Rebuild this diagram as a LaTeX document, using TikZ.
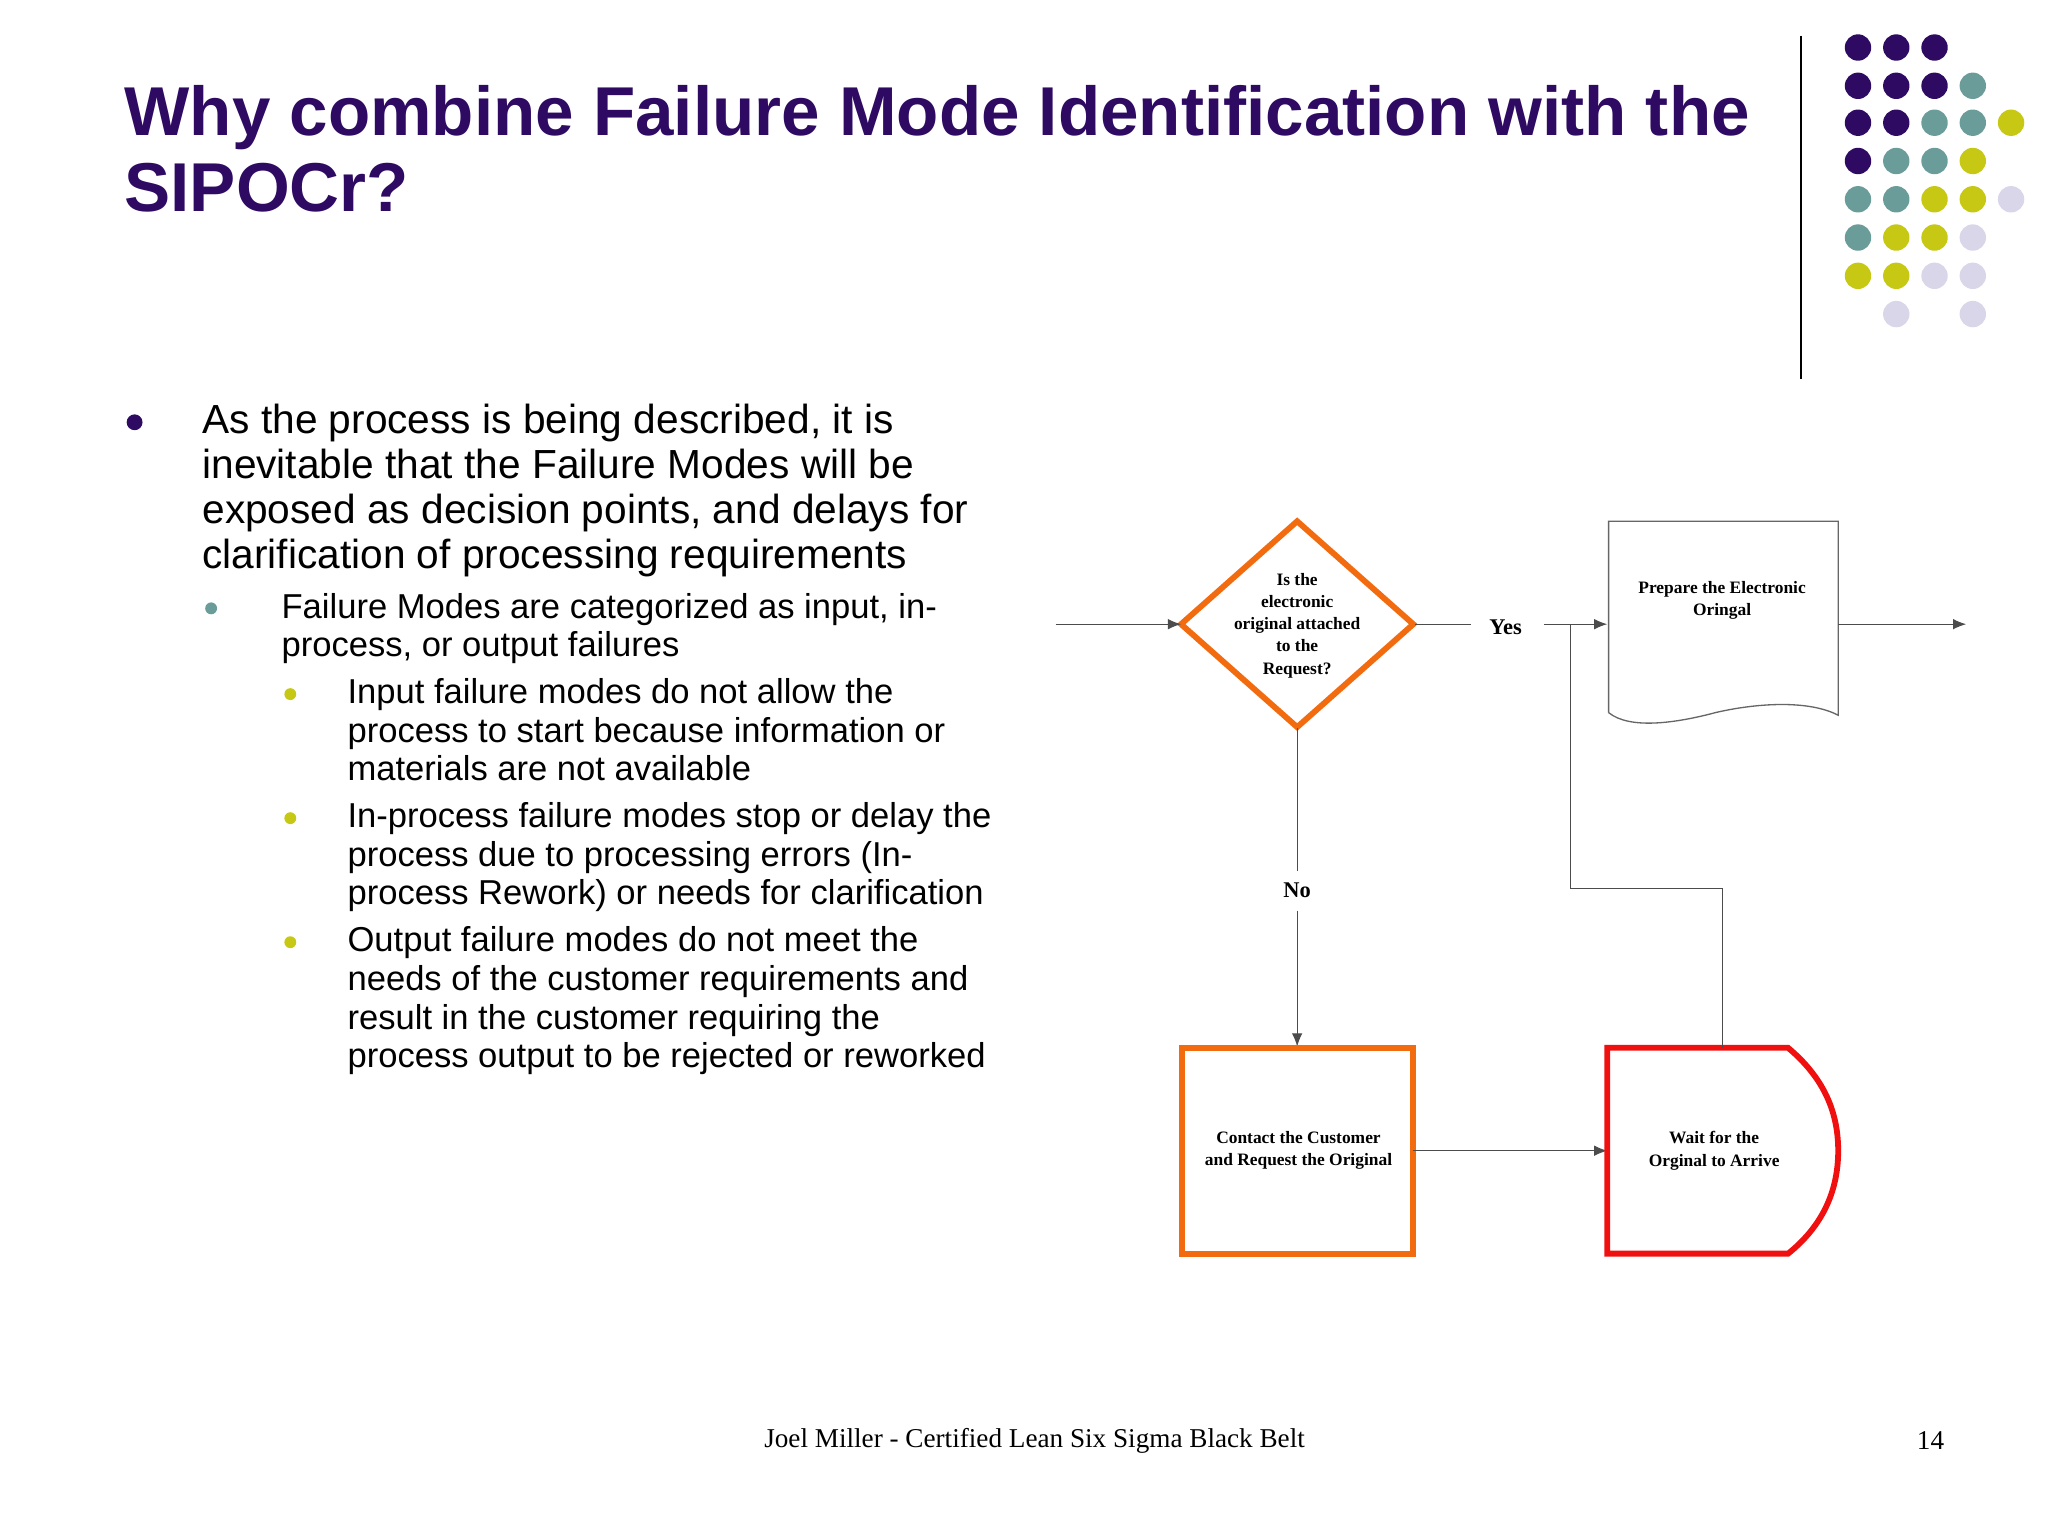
\documentclass[tikz,border=0pt]{standalone}
\usepackage{fontspec}
\setmainfont{Liberation Serif}
\newfontfamily\arial{Liberation Sans}
\definecolor{dpurple}{HTML}{2E0A63}
\definecolor{dteal}{HTML}{6A9C9A}
\definecolor{dyellow}{HTML}{C6C814}
\definecolor{dlav}{HTML}{D9D6EA}
\definecolor{dorange}{HTML}{F26B0F}
\definecolor{dred}{HTML}{F01010}
\begin{document}
\begin{tikzpicture}[x=0.5pt,y=-0.5pt,
  fctext/.style={font=\fontsize{6.6}{8.4}\selectfont\bfseries,align=center},
  conn/.style={draw=black!70,line width=0.4pt},
  arr/.style={conn,-{Latex[length=5pt,width=4pt]}},
  body/.style={anchor=north west,inner sep=0pt,align=left,font=\arial\fontsize{15.4}{17}\selectfont},
  sub/.style={anchor=north west,inner sep=0pt,align=left,font=\arial\fontsize{13.1}{14.6}\selectfont}]
\usetikzlibrary{arrows.meta}
\useasboundingbox (0,0) rectangle (1552,1164);
\fill[white] (0,0) rectangle (1552,1164);
% title
\node[anchor=north west,inner sep=0pt,align=left,text=dpurple,font=\arial\bfseries\fontsize{26.2}{29}\selectfont] (title) at (94,64) {Why combine Failure Mode Identification with the\\SIPOCr?};
\draw[black,line width=0.8pt] (1365,27) -- (1365,287);
% dots
\foreach \c/\x/\y in {dpurple/1408/36,dpurple/1437/36,dpurple/1466/36,
 dpurple/1408/65,dpurple/1437/65,dpurple/1466/65,dteal/1495/65,
 dpurple/1408/93,dpurple/1437/93,dteal/1466/93,dteal/1495/93,dyellow/1524/93,
 dpurple/1408/122,dteal/1437/122,dteal/1466/122,dyellow/1495/122,
 dteal/1408/151,dteal/1437/151,dyellow/1466/151,dyellow/1495/151,dlav/1524/151,
 dteal/1408/180,dyellow/1437/180,dyellow/1466/180,dlav/1495/180,
 dyellow/1408/209,dyellow/1437/209,dlav/1466/209,dlav/1495/209,
 dlav/1437/238,dlav/1495/238}
 \fill[\c] (\x,\y) circle (10);
% bullets
\fill[dpurple] (102,320) circle (6);
\node[body] (p1) at (153,306) {As the process is being described, it is\\inevitable that the Failure Modes will be\\exposed as decision points, and delays for\\clarification of processing requirements};
\fill[dteal] (160,461) circle (4.5);
\node[sub] (p2) at (213,449) {Failure Modes are categorized as input, in-\\process, or output failures};
\fill[dyellow] (220,526) circle (4.5);
\node[sub] (p3) at (263,514) {Input failure modes do not allow the\\process to start because information or\\materials are not available};
\fill[dyellow] (220,620) circle (4.5);
\node[sub] (p4) at (263,608) {In-process failure modes stop or delay the\\process due to processing errors (In-\\process Rework) or needs for clarification};
\fill[dyellow] (220,714) circle (4.5);
\node[sub] (p5) at (263,702) {Output failure modes do not meet the\\needs of the customer requirements and\\result in the customer requiring the\\process output to be rejected or reworked};
% flowchart
\draw[dorange,line width=2.2pt] (983,395) -- (1071,473) -- (983,551) -- (895,473) -- cycle;
\node[fctext] (dec) at (983,474) {Is the\\electronic\\original attached\\to the\\Request?};
\coordinate (din) at (800,473);
\coordinate (dl) at (895,473);
\coordinate (dr) at (1072,473);
\coordinate (db) at (983,552);
\draw[arr] (din) -- (dl);
\node[fctext,font=\fontsize{8.5}{10}\selectfont\bfseries] (yes) at (1141,475) {Yes};
\node[fctext,font=\fontsize{8.5}{10}\selectfont\bfseries] (no) at (983,675) {No};
\draw[conn] (dr) -- (1115,473);
\coordinate (yj) at (1190,473);
\draw[arr] (1170,473) -- (1218,473);
% document
\draw[black!60,line width=0.5pt] (1219,540) -- (1219,395) -- (1393,395) -- (1393,542) .. controls (1370,530) and (1330,533) .. (1300,540) .. controls (1270,548) and (1235,553) .. (1219,540);
\node[fctext] (doc) at (1305,455) {Prepare the Electronic\\Oringal};
\coordinate (out) at (1490,473);
\draw[arr] (1393,473) -- (out);
\draw[conn] (db) -- (983,660);
\draw[arr] (983,690) -- (983,793);
% contact
\draw[dorange,line width=2.2pt] (896,794) rectangle (1071,950);
\node[fctext] (contact) at (984,872) {Contact the Customer\\and Request the Original};
\draw[arr] (1071,872) -- (1218,872);
% delay
\draw[dred,line width=2.2pt] (1218,794) -- (1355,794) .. controls (1380,815) and (1393,840) .. (1393,872) .. controls (1393,904) and (1380,930) .. (1355,950) -- (1218,950) -- cycle;
\node[fctext] (wait) at (1299,872) {Wait for the\\Orginal to Arrive};
\draw[conn] (1305,794) -- (1305,673) -- (1190,673) -- (yj);
% footer
\node[font=\fontsize{10.3}{12}\selectfont] (foot) at (784,1092) {Joel Miller - Certified Lean Six Sigma Black Belt};
\node[font=\fontsize{10.3}{12}\selectfont] (pg) at (1463,1092) {14};
\end{tikzpicture}
\end{document}
